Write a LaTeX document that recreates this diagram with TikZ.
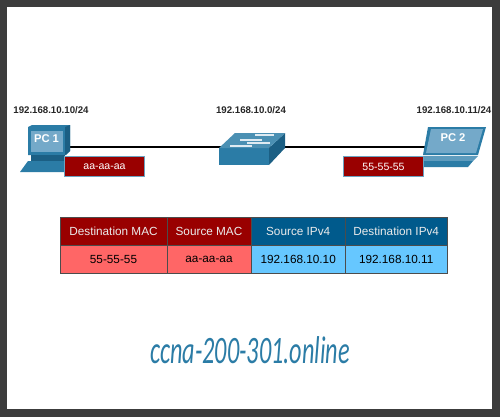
\documentclass[tikz,border=0pt]{standalone}
\usepackage{fontspec}
\setmainfont{Liberation Sans}
\newfontfamily\sitefont{Carlito}
\usepackage{xcolor}
\usetikzlibrary{positioning}
\definecolor{macdark}{HTML}{990000}
\definecolor{maclight}{HTML}{FF6666}
\definecolor{ipdark}{HTML}{005A8C}
\definecolor{iplight}{HTML}{66C7FF}
\definecolor{devbody}{HTML}{2B7CA6}
\definecolor{devdark}{HTML}{1B5F84}
\definecolor{devscreen}{HTML}{74A9C9}
\definecolor{frameline}{HTML}{3C3C3C}
\tikzset{
  addr/.style={font=\fontsize{5.5}{6.5}\selectfont\bfseries, text=black!85, inner sep=0pt},
  pclbl/.style={font=\fontsize{6.4}{8}\selectfont\bfseries, text=white, inner sep=0pt},
  tag/.style={draw=devbody!70, semithick, fill=macdark, text=white, minimum width=1.6cm, minimum height=0.41cm,
              inner sep=0pt, font=\fontsize{6}{7}\selectfont},
  cell/.style={draw=black!70, thin, minimum height=0.56cm, inner sep=0pt, font=\fontsize{6.7}{8}\selectfont},
  head/.style={cell, text=white!92!black},
  link/.style={line width=1.1pt, black},
}
\begin{document}
\begin{tikzpicture}[x=0.02cm, y=-0.02cm]
\useasboundingbox (0,0) rectangle (500,417);
\fill[frameline] (0,0) rectangle (500,417);
\fill[white] (7,7) rectangle (492,409);
% network
\coordinate (pc1) at (68,147);
\coordinate (sw) at (251,147);
\coordinate (pc2) at (428,147);
\draw[link] (pc1) -- (sw);
\draw[link] (sw) -- (pc2);
\node[addr] (addr1) at (51,110.5) {192.168.10.10/24};
\node[addr] (addr2) at (251,110.5) {192.168.10.0/24};
\node[addr] (addr3) at (454,110.5) {192.168.10.11/24};
% PC 1
\fill[devbody] (28,127) -- (32,125) -- (70,125) -- (70,151) -- (66,155) -- (28,155) -- cycle;
\fill[devdark] (65,127) -- (70,125) -- (70,151) -- (65,155) -- cycle;
\fill[devscreen] (31,131) rectangle (63,152);
\fill[devdark] (31,155) rectangle (65,161);
\fill[devbody] (28,161) -- (65,161) -- (65,172) -- (20,172) -- cycle;
\node[pclbl] (pc1lbl) at (46.5,139) {PC 1};
\node[tag] (mac1) at (104.5,166.5) {aa-aa-aa};
% switch
\fill[devbody] (219,148) rectangle (269,165);
\fill[devdark] (269,148) -- (285,133) -- (285,148) -- (269,165) -- cycle;
\fill[devbody!85!white] (219,148) -- (235,133) -- (285,133) -- (269,148) -- cycle;
\draw[white!85!devbody, line width=0.7pt] (255,135) -- (274,135) (240,140) -- (262,140) (247,143) -- (270,143) (230,146) -- (252,146);
% PC 2
\fill[devbody] (428,127) -- (486,127) -- (478,155) -- (423,155) -- cycle;
\fill[devscreen] (431,129) -- (483,129) -- (476,153) -- (426,153) -- cycle;
\fill[devscreen!70!devbody] (423,156) -- (478,156) -- (473,161) -- (423,161) -- cycle;
\fill[devbody] (423,161) -- (473,161) -- (468,167) -- (423,167) -- cycle;
\node[pclbl] (pc2lbl) at (453,138) {PC 2};
\node[tag] (mac2) at (383.5,166.5) {55-55-55};
% table
\node[head, fill=macdark, minimum width=2.14cm] (h1) at (113.5,231) {Destination MAC};
\node[head, fill=macdark, minimum width=1.68cm] (h2) at (209,231) {Source MAC};
\node[head, fill=ipdark, minimum width=1.89cm] (h3) at (298.2,231) {Source IPv4};
\node[head, fill=ipdark, minimum width=2.03cm] (h4) at (396.2,231) {Destination IPv4};
\node[cell, fill=maclight, minimum width=2.14cm] (v1) at (113.5,259) {55-55-55};
\node[cell, fill=maclight, minimum width=1.68cm] (v2) at (209,259) {aa-aa-aa};
\node[cell, fill=iplight, minimum width=1.89cm] (v3) at (298.2,259) {192.168.10.10};
\node[cell, fill=iplight, minimum width=2.03cm] (v4) at (396.2,259) {192.168.10.11};
% site name
\node[inner sep=0pt, text=devbody, font=\fontsize{13.8}{16}\sitefont\itshape, yscale=1.6] (site) at (250,350) {ccna-200-301.online};
\end{tikzpicture}
\end{document}
